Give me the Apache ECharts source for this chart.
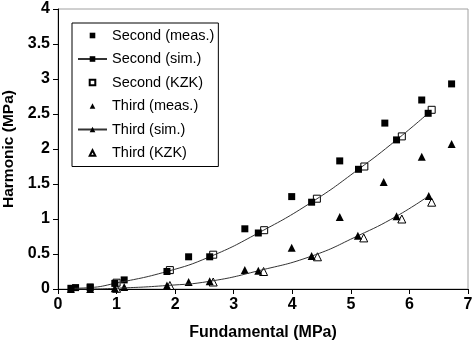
<!DOCTYPE html>
<html>
<head>
<meta charset="utf-8">
<script src="https://cdn.jsdelivr.net/npm/echarts@6/dist/echarts.min.js"></script>
<style>html,body{margin:0;padding:0;background:#fff}#c{width:474px;height:342px}</style>
</head>
<body>
<div id="c"></div>
<script>
const xTicks = [0, 1, 2, 3, 4, 5, 6, 7];
const yTicks = [0, 0.5, 1, 1.5, 2, 2.5, 3, 3.5, 4];
const seriesNames = ['Second (meas.)', 'Second (sim.)', 'Second (KZK)', 'Third (meas.)', 'Third (sim.)', 'Third (KZK)'];

const secondMeasX = [0.3, 0.55, 1.13, 2.23, 3.19, 3.99, 4.81, 5.58, 6.21, 6.72];
const secondMeasY = [0.02, 0.03, 0.13, 0.46, 0.86, 1.32, 1.83, 2.37, 2.70, 2.93];
const secondSimX = [0.22, 0.55, 0.97, 1.86, 2.59, 3.42, 4.33, 5.13, 5.78, 6.32];
const secondSimY = [0.01, 0.02, 0.08, 0.25, 0.46, 0.80, 1.24, 1.71, 2.13, 2.51];
const secondKzkX = [1.0, 1.91, 2.65, 3.52, 4.42, 5.23, 5.87, 6.38];
const secondKzkY = [0.09, 0.27, 0.49, 0.84, 1.29, 1.75, 2.18, 2.56];
const thirdMeasX = [1.13, 2.23, 3.19, 3.99, 4.81, 5.56, 6.21, 6.72];
const thirdMeasY = [0.03, 0.10, 0.27, 0.59, 1.03, 1.53, 1.89, 2.07];
const thirdSimX = [0.22, 0.55, 0.97, 1.86, 2.59, 3.42, 4.33, 5.12, 5.78, 6.33];
const thirdSimY = [0.0, 0.0, 0.01, 0.05, 0.11, 0.26, 0.47, 0.76, 1.04, 1.33];
const thirdKzkX = [1.0, 1.91, 2.65, 3.51, 4.43, 5.22, 5.87, 6.38];
const thirdKzkY = [0.01, 0.05, 0.10, 0.25, 0.46, 0.73, 1.00, 1.24];

const pairs = (xs, ys) => xs.map((x, i) => [x, ys[i]]);
const FONT = '"Liberation Sans", Arial, sans-serif';

const filled = { color: '#000', borderColor: '#000', borderWidth: 0 };
const hollow = { color: '#fff', borderColor: '#000', borderWidth: 1 };
const noLine = { color: '#000', width: 0, opacity: 0 };
const simLine = { color: '#333', width: 1 };

function markSeries(name, symbol, size, style, xs, ys, z) {
  return { name, type: 'line', symbol, symbolSize: size, showSymbol: true, showAllSymbol: true,
    lineStyle: noLine, itemStyle: style, data: pairs(xs, ys), z };
}

const chart = echarts.init(document.getElementById('c'), null, { renderer: 'canvas' });
chart.setOption({
  animation: false,
  backgroundColor: '#fff',
  grid: { left: 58, right: 6, top: 9, bottom: 53, outerBoundsMode: 'none', containLabel: false,
    show: true, borderColor: '#a0a0a0', borderWidth: 1, backgroundColor: 'transparent' },
  xAxis: {
    type: 'value', min: xTicks[0], max: xTicks[xTicks.length - 1], interval: 1,
    name: 'Fundamental (MPa)', nameLocation: 'middle', nameGap: 36,
    nameTextStyle: { fontFamily: FONT, fontWeight: 'bold', fontSize: 16, color: '#000' },
    axisLine: { show: true, onZero: false, lineStyle: { color: '#000', width: 1 } },
    axisTick: { show: true, inside: false, length: 5, lineStyle: { color: '#000' } },
    axisLabel: { fontFamily: FONT, fontWeight: 'bold', fontSize: 16, color: '#000', margin: 8 },
    splitLine: { show: false }
  },
  yAxis: {
    type: 'value', min: yTicks[0], max: yTicks[yTicks.length - 1], interval: 0.5,
    name: 'Harmonic (MPa)', nameLocation: 'middle', nameGap: 38,
    nameTextStyle: { fontFamily: FONT, fontWeight: 'bold', fontSize: 15.5, color: '#000' },
    axisLine: { show: true, onZero: false, lineStyle: { color: '#000', width: 1 } },
    axisTick: { show: true, inside: false, length: 5, lineStyle: { color: '#000' } },
    axisLabel: { fontFamily: FONT, fontWeight: 'bold', fontSize: 16, color: '#000', margin: 8 },
    splitLine: { show: false }
  },
  legend: {
    orient: 'vertical', left: 72, top: 23,
    padding: [5, 4, 6, 5],
    itemGap: 8.5,
    itemWidth: 29, itemHeight: 7,
    borderColor: '#000', borderWidth: 1,
    backgroundColor: '#fff',
    textStyle: { fontFamily: FONT, fontSize: 14.5, color: '#000' },
    data: seriesNames
  },
  series: [
    markSeries(seriesNames[0], 'rect', 7, filled, secondMeasX, secondMeasY, 3),
    { name: seriesNames[1], type: 'line', smooth: true, symbol: 'rect', symbolSize: 7, showAllSymbol: true,
      lineStyle: simLine, itemStyle: filled, data: pairs(secondSimX, secondSimY), z: 4 },
    markSeries(seriesNames[2], 'rect', 7, hollow, secondKzkX, secondKzkY, 2),
    markSeries(seriesNames[3], 'triangle', 8, filled, thirdMeasX, thirdMeasY, 3),
    { name: seriesNames[4], type: 'line', smooth: true, symbol: 'triangle', symbolSize: 8, showAllSymbol: true,
      lineStyle: simLine, itemStyle: filled, data: pairs(thirdSimX, thirdSimY), z: 4 },
    markSeries(seriesNames[5], 'triangle', 8, hollow, thirdKzkX, thirdKzkY, 2)
  ]
});
</script>
</body>
</html>
